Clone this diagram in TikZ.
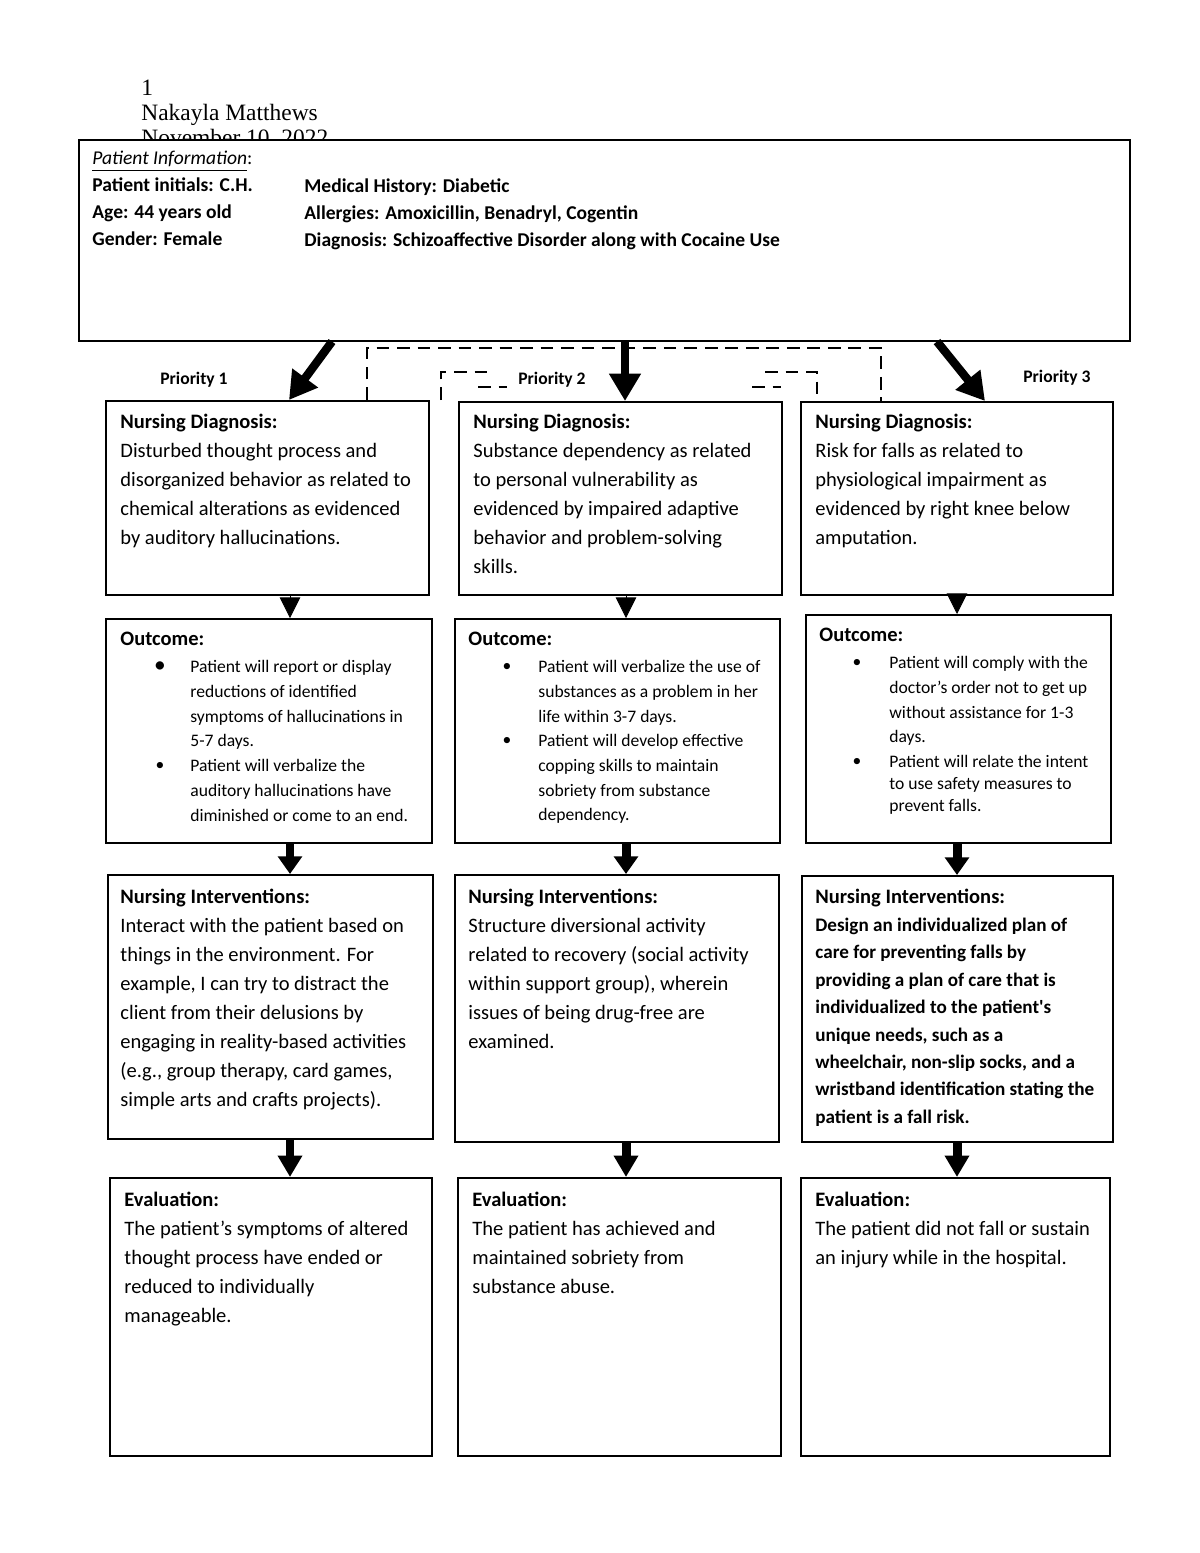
\documentclass[tikz,border=0pt]{standalone}
\usepackage{fontspec}
\setmainfont{Carlito}
\newfontfamily\hdserif{Liberation Serif}
\usetikzlibrary{arrows.meta}
\newcommand\pxu{0.5118pt}
\newcommand\mybox[5]{\node[box, minimum width={(#4-(#2))*\pxu}, minimum height={(#5-(#3))*\pxu}] (#1) at (#2,#3) {};}
\begin{document}
\begin{tikzpicture}[x=0.5118pt,y=-0.5118pt,
 box/.style={draw, line width=0.8pt, anchor=north west, inner sep=0pt, fill=white},
 txt/.style={anchor=north west, inner sep=0pt, align=left, font=\fontsize{10.5}{14.8}\selectfont},
 btxt/.style={anchor=north west, inner sep=0pt, align=left, font=\fontsize{9}{12.65}\selectfont},
 bul/.style={anchor=center, inner sep=0pt, font=\fontsize{9}{10}\selectfont},
 hinfo/.style={anchor=north west, inner sep=0pt, align=left, font=\fontsize{10}{13.8}\selectfont},
 prio/.style={inner sep=0pt, font=\bfseries\fontsize{9}{10}\selectfont},
 serifhd/.style={anchor=base west, inner sep=0pt, font=\hdserif\fontsize{12}{14}\selectfont},
 bigarrow/.style={line width=4.3pt, -{Triangle[width=15.5pt,length=14pt]}},
 tri/.style={line width=0.4pt, -{Triangle[width=10.5pt,length=10.5pt]}},
 stub/.style={line width=4.6pt, -{Triangle[width=12pt,length=9pt]}},
 stubb/.style={line width=4.6pt, -{Triangle[width=12pt,length=11pt]}},
 dashline/.style={line width=1pt, dash pattern=on 6.5pt off 4pt},
]
\useasboundingbox (0,0) rectangle (1200,1553);
\fill[white] (0,0) rectangle (1200,1553);

% page header (partly hidden by the box)
\node[serifhd] (pg) at (141,95) {1};
\node[serifhd] (nm) at (141,120) {Nakayla Matthews};
\node[serifhd] (dt) at (141,145) {November 10, 2022};

% patient information box
\mybox{h}{78}{139}{1129}{340}
\node[hinfo] (hi1) at (92,151) {\underline{\textit{Patient Information}}:\\
 \textbf{Patient initials: C.H.}\\
 \textbf{Age: 44 years old}\\
 \textbf{Gender: Female}};
\node[hinfo] (hi2) at (304,178) {\textbf{Medical History: Diabetic}\\
 \textbf{Allergies: Amoxicillin, Benadryl, Cogentin}\\
 \textbf{Diagnosis: Schizoaffective Disorder along with Cocaine Use}};

% column boxes
\mybox{d1}{105}{400}{428}{594}
\mybox{d2}{458}{401}{781}{594}
\mybox{d3}{800}{401}{1112}{594}
\mybox{o1}{105}{618}{431}{842}
\mybox{o2}{454}{618}{779}{842}
\mybox{o3}{805}{614}{1110}{842}
\mybox{n1}{107}{874}{432}{1138}
\mybox{n2}{454}{874}{778}{1141}
\mybox{n3}{801}{875}{1112}{1141}
\mybox{e1}{109}{1177}{431}{1455}
\mybox{e2}{457}{1177}{780}{1455}
\mybox{e3}{800}{1177}{1109}{1455}

% priority labels
\node[prio] (p1) at (194,380) {Priority 1};
\node[prio] (p2) at (552,380) {Priority 2};
\node[prio] (p3) at (1057,378) {Priority 3};

% diagnosis texts
\node[txt] (td1) at (120,414) {\textbf{Nursing Diagnosis:}\\
Disturbed thought process and\\
disorganized behavior as related to\\
chemical alterations as evidenced\\
by auditory hallucinations.};
\node[txt] (td2) at (473,414) {\textbf{Nursing Diagnosis:}\\
Substance dependency as related\\
to personal vulnerability as\\
evidenced by impaired adaptive\\
behavior and problem-solving\\
skills.};
\node[txt] (td3) at (815,414) {\textbf{Nursing Diagnosis:}\\
Risk for falls as related to\\
physiological impairment as\\
evidenced by right knee below\\
amputation.};

% outcome texts
\node[txt] (to1) at (120,632) {\textbf{Outcome:}};
\node[bul] (b11) at (160,667) {\large\textbullet};
\node[btxt] (t11) at (190,660) {Patient will report or display\\
reductions of identified\\
symptoms of hallucinations in\\
5-7 days.};
\node[bul] (b12) at (160,766) {\textbullet};
\node[btxt] (t12) at (190,759) {Patient will verbalize the\\
auditory hallucinations have\\
diminished or come to an end.};

\node[txt] (to2) at (468,632) {\textbf{Outcome:}};
\node[bul] (b21) at (507,667) {\textbullet};
\node[btxt] (t21) at (538,660) {Patient will verbalize the use of\\
substances as a problem in her\\
life within 3-7 days.};
\node[bul] (b22) at (507,741) {\textbullet};
\node[btxt] (t22) at (538,734) {Patient will develop effective\\
copping skills to maintain\\
sobriety from substance\\
dependency.};

\node[txt] (to3) at (819,628) {\textbf{Outcome:}};
\node[bul] (b31) at (857,663) {\textbullet};
\node[btxt] (t31) at (889,656) {Patient will comply with the\\
doctor’s order not to get up\\
without assistance for 1-3\\
days.};
\node[bul] (b32) at (857,762) {\textbullet};
\node[btxt, font=\fontsize{9}{11.3}\selectfont] (t32) at (889,755) {Patient will relate the intent\\
to use safety measures to\\
prevent falls.};

% intervention texts
\node[txt] (tn1) at (120,889) {\textbf{Nursing Interventions:}\\
Interact with the patient based on\\
things in the environment. For\\
example, I can try to distract the\\
client from their delusions by\\
engaging in reality-based activities\\
(e.g., group therapy, card games,\\
simple arts and crafts projects).};
\node[txt] (tn2) at (468,889) {\textbf{Nursing Interventions:}\\
Structure diversional activity\\
related to recovery (social activity\\
within support group), wherein\\
issues of being drug-free are\\
examined.};
\node[txt, font=\bfseries\fontsize{10.5}{14.05}\selectfont] (tn3) at (815,889) {Nursing Interventions:\\
{\fontsize{9.8}{14.05}\selectfont Design an individualized plan of}\\
{\fontsize{9.8}{14.05}\selectfont care for preventing falls by}\\
{\fontsize{9.8}{14.05}\selectfont providing a plan of care that is}\\
{\fontsize{9.8}{14.05}\selectfont individualized to the patient\textquotesingle s}\\
{\fontsize{9.8}{14.05}\selectfont unique needs, such as a}\\
{\fontsize{9.8}{14.05}\selectfont wheelchair, non-slip socks, and a}\\
{\fontsize{9.8}{14.05}\selectfont wristband identification stating the}\\
{\fontsize{9.8}{14.05}\selectfont patient is a fall risk.}};

% evaluation texts
\node[txt] (te1) at (124,1192) {\textbf{Evaluation:}\\
The patient’s symptoms of altered\\
thought process have ended or\\
reduced to individually\\
manageable.};
\node[txt] (te2) at (472,1192) {\textbf{Evaluation:}\\
The patient has achieved and\\
maintained sobriety from\\
substance abuse.};
\node[txt] (te3) at (815,1192) {\textbf{Evaluation:}\\
The patient did not fall or sustain\\
an injury while in the hospital.};

% main arrows from the information box
\draw[bigarrow] ([xshift=254*\pxu]h.south west) -- ([xshift=184*\pxu]d1.north west);
\draw[bigarrow] ([xshift=547*\pxu]h.south west) -- ([xshift=167*\pxu]d2.north west);
\draw[bigarrow] ([xshift=859*\pxu]h.south west) -- ([xshift=185*\pxu]d3.north west);

% column arrows
\coordinate (c1) at (290,0);
\coordinate (c2) at (626,0);
\coordinate (c3) at (957,0);
\draw[tri] (d1.south -| c1) -- (o1.north -| c1);
\draw[tri] (d2.south -| c2) -- (o2.north -| c2);
\draw[tri] (d3.south -| c3) -- (o3.north -| c3);
\draw[stub] (o1.south -| c1) -- (n1.north -| c1);
\draw[stub] (o2.south -| c2) -- (n2.north -| c2);
\draw[stub] (o3.south -| c3) -- (n3.north -| c3);
\draw[stubb] (n1.south -| c1) -- (e1.north -| c1);
\draw[stubb] (n2.south -| c2) -- (e2.north -| c2);
\draw[stubb] (n3.south -| c3) -- (e3.north -| c3);

% dashed connectors
\draw[dashline] ([xshift=262*\pxu]d1.north west) -- ++(0,-52) -| ([xshift=81*\pxu]d3.north west);
\coordinate (il) at (441,400);
\coordinate (ilt) at (493,372);
\coordinate (ila) at (478,387);
\coordinate (ilb) at (507,387);
\draw[dashline] (il) |- (ilt);
\draw[dashline] (ila) -- (ilb);
\coordinate (ira) at (752,387);
\coordinate (irb) at (781,387);
\coordinate (irt) at (765,372);
\draw[dashline] (ira) -- (irb);
\draw[dashline] (irt) -| ([xshift=17*\pxu]d3.north west);
\end{tikzpicture}
\end{document}
